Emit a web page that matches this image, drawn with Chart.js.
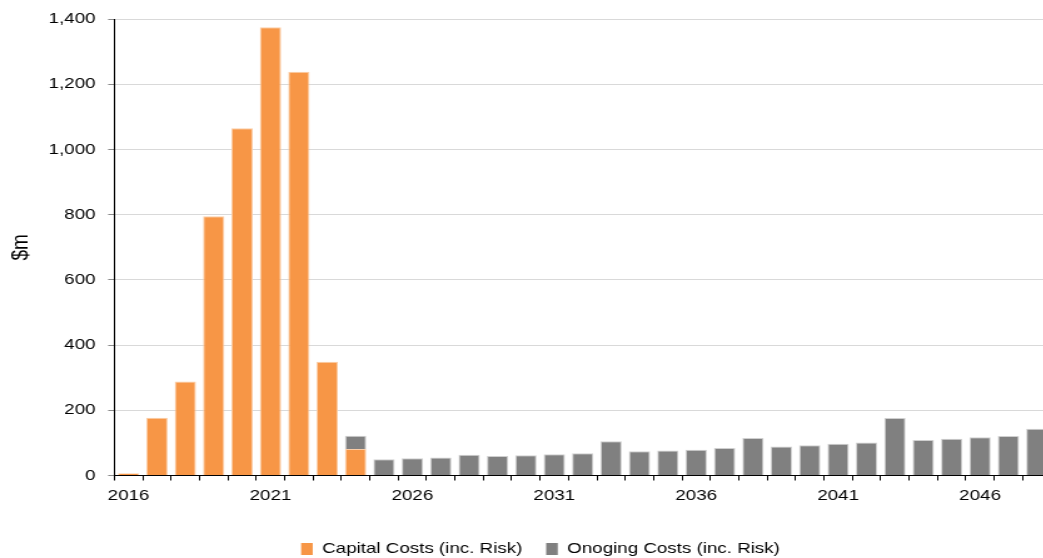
<!DOCTYPE html>
<html>
<head>
<meta charset="utf-8">
<script src="https://cdn.jsdelivr.net/npm/chart.js@4"></script>
<style>
html,body{margin:0;padding:0;overflow:hidden;background:#fff;width:1043px;height:558px}
canvas{display:block}
</style>
</head>
<body>
<canvas id="c" width="840" height="558" style="width:1050.5px;height:558px"></canvas>
<script>
const years = ['2016','2017','2018','2019','2020','2021','2022','2023','2024','2025',
  '2026','2027','2028','2029','2030','2031','2032','2033','2034','2035',
  '2036','2037','2038','2039','2040','2041','2042','2043','2044','2045',
  '2046','2047','2048'];
const capitalCosts = [7,177,288,795,1065,1375,1238,349,81,null,
  null,null,null,null,null,null,null,null,null,null,
  null,null,null,null,null,null,null,null,null,null,
  null,null,null];
const ongoingCosts = [null,null,null,null,null,null,null,null,41,50,
  53,55,64,60,62,65,68,105,74,77,
  79,84,115,89,93,97,101,176,109,113,
  117,121,143];
const xTickLabels = ['2016','2021','2026','2031','2036','2041','2046'];
const yMin = 0, yMax = 1400, yStep = 200;
const seriesNames = ['Capital Costs (inc. Risk)', 'Onoging Costs (inc. Risk)'];

const FONT = "'Liberation Sans', Arial, sans-serif";

const legendShift = {
  id: 'legendShift',
  afterLayout(chart) {
    const l = chart.legend;
    if (!l) return;
    l.left += 12; l.right += 12;
    l.top += 8.5; l.bottom += 8.5;
  }
};

new Chart(document.getElementById('c'), {
  type: 'bar',
  data: {
    labels: years,
    datasets: [
      {
        label: seriesNames[0],
        data: capitalCosts,
        backgroundColor: '#F79646',
        borderColor: '#fbcda6',
        borderWidth: 1,
        categoryPercentage: 1,
        barPercentage: 0.75
      },
      {
        label: seriesNames[1],
        data: ongoingCosts,
        backgroundColor: '#808080',
        borderColor: '#cfcfcf',
        borderWidth: 1,
        categoryPercentage: 1,
        barPercentage: 0.75
      }
    ]
  },
  options: {
    responsive: false,
    animation: false,
    devicePixelRatio: 1,
    layout: { padding: { top: 19, right: 0, bottom: 0, left: 0 } },
    plugins: {
      tooltip: { enabled: false },
      legend: {
        position: 'bottom',
        labels: {
          font: { family: FONT, size: 15 },
          color: '#000',
          boxWidth: 9.3,
          boxHeight: 12,
          padding: 19,
          generateLabels(chart) {
            return Chart.defaults.plugins.legend.labels.generateLabels(chart)
              .map(l => Object.assign(l, { lineWidth: 0 }));
          }
        }
      }
    },
    scales: {
      x: {
        stacked: true,
        grid: {
          display: true,
          drawOnChartArea: false,
          drawTicks: true,
          tickLength: 5,
          tickColor: '#000',
          offset: true
        },
        border: { display: true, color: '#000', width: 1 },
        ticks: {
          autoSkip: false,
          maxRotation: 0,
          minRotation: 0,
          padding: 6.5,
          color: '#000',
          font: { family: FONT, size: 15 },
          callback(value, index) {
            const y = years[index];
            return xTickLabels.includes(y) ? y : '';
          }
        },
        afterFit(scale) { scale.height = 38.5; }
      },
      y: {
        stacked: true,
        min: yMin,
        max: yMax,
        grid: {
          color: '#d9d9d9',
          lineWidth: 1,
          drawTicks: true,
          tickLength: 5,
          tickColor: '#8c8c8c'
        },
        border: { display: true, color: '#000', width: 1 },
        ticks: {
          stepSize: yStep,
          padding: 10,
          color: '#000',
          font: { family: FONT, size: 15 },
          callback(v) { return Number(v).toLocaleString('en-US'); }
        },
        title: {
          display: true,
          text: '$m',
          color: '#000',
          font: { family: FONT, size: 19 },
          padding: { top: 5.3, bottom: 0 }
        },
        afterFit(scale) { scale.width = 91.4; }
      }
    }
  },
  plugins: [legendShift]
});
</script>
</body>
</html>
